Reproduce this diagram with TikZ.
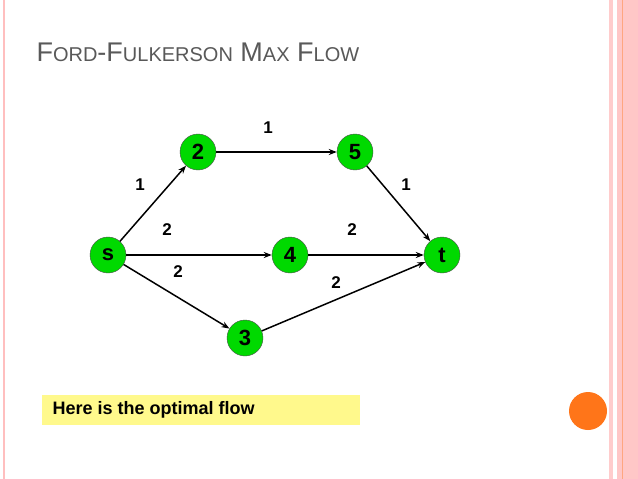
\documentclass[tikz,border=0pt]{standalone}
\usepackage{fontspec}
\setmainfont{Liberation Sans}
\usetikzlibrary{arrows.meta}
\begin{document}
\begin{tikzpicture}[x=1pt,y=-1pt,
  v/.style={circle,draw=black!70,fill=green!85!black,minimum size=36pt,inner sep=0pt,font=\bfseries\fontsize{22}{22}\selectfont},
  e/.style={-{Stealth[length=8pt,width=6pt]},line width=1.5pt},
  w/.style={font=\bfseries\fontsize{17}{17}\selectfont}]
\useasboundingbox (0,0) rectangle (638,479);
\fill[white] (0,0) rectangle (638,479);
\draw[red!25,line width=1.5pt] (4,0) -- (4,479);
\fill[red!20] (609,0) rectangle (613,479);
\fill[red!22] (617,0) rectangle (638,479);
\draw[orange!60!red!50,line width=0.8pt] (622,0) -- (622,479);
\fill[orange!80!red!90] (588,411) circle (19);
\node[anchor=west,text=black!65,font=\fontsize{27}{27}\selectfont] (title) at (33,52) {F{\fontsize{20}{20}\selectfont ORD}-F{\fontsize{20}{20}\selectfont ULKERSON} M{\fontsize{20}{20}\selectfont AX} F{\fontsize{20}{20}\selectfont LOW}};
\node[v] (s) at (108,255) {s};
\node[v] (n2) at (198,152) {2};
\node[v] (n5) at (355,152) {5};
\node[v] (n4) at (290,255) {4};
\node[v] (t) at (442,255) {t};
\node[v] (n3) at (245,338) {3};
\draw[e] (s) -- (n2);
\draw[e] (n2) -- (n5);
\draw[e] (n5) -- (t);
\draw[e] (s) -- (n4);
\draw[e] (n4) -- (t);
\draw[e] (s) -- (n3);
\draw[e] (n3) -- (t);
\node[w] (l1) at (268,128) {1};
\node[w] (l2) at (140,185) {1};
\node[w] (l3) at (406,185) {1};
\node[w] (l4) at (167,230) {2};
\node[w] (l5) at (352,230) {2};
\node[w] (l6) at (178,272) {2};
\node[w] (l7) at (336,283) {2};
\node[fill=yellow!45,minimum width=318pt,minimum height=30pt,anchor=north west,inner sep=0pt] (box) at (42,395) {};
\node[anchor=west,font=\bfseries\fontsize{18}{18}\selectfont] (txt) at (49,410) {Here is the optimal flow};
\end{tikzpicture}
\end{document}
